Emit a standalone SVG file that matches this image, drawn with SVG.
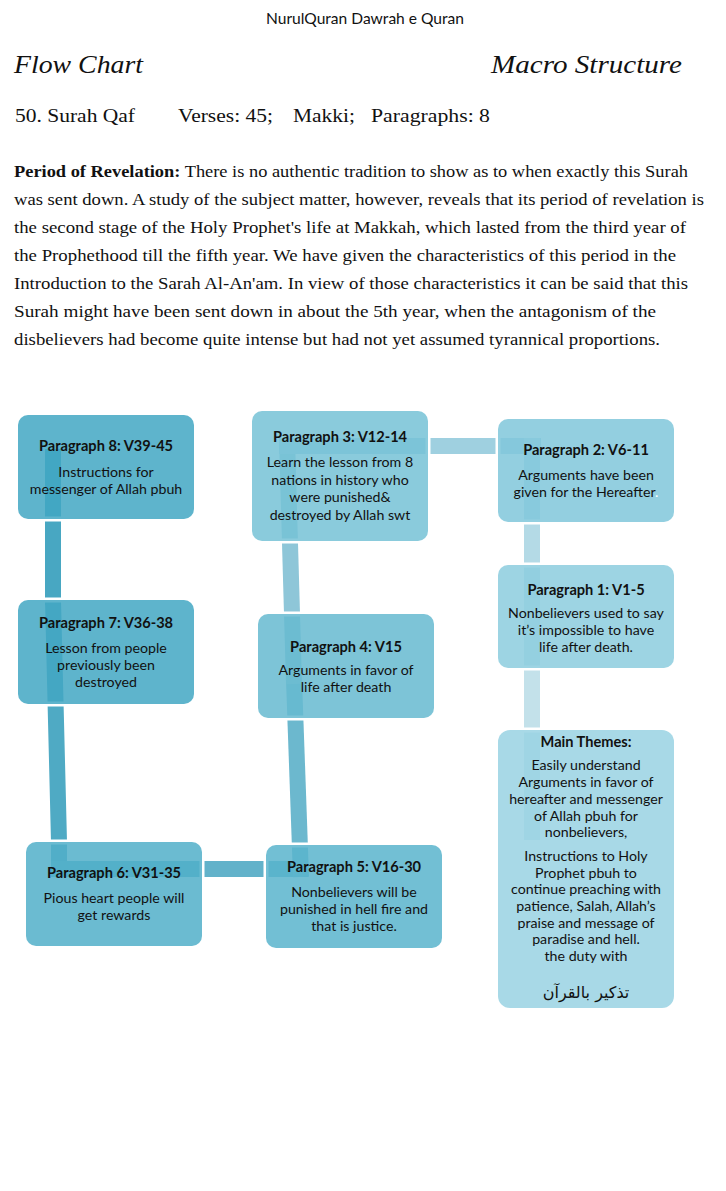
<svg xmlns="http://www.w3.org/2000/svg" width="726" height="1191" viewBox="0 0 726 1191">
<style>
.hdr{font-family:Lato,"Open Sans",sans-serif;font-size:15px;fill:#111;text-anchor:middle}
.scr{font-family:"Liberation Serif",serif;font-style:italic;font-size:25px;fill:#111}
.ser{font-family:"Liberation Serif",serif;font-size:19px;fill:#111}
.par{font-family:"Liberation Serif",serif;font-size:16.5px;fill:#111}
.b{font-weight:bold}
.t{font-family:Lato,"Open Sans",sans-serif;font-size:14.2px;fill:#111;text-anchor:middle}
.tb{font-family:Lato,"Open Sans",sans-serif;font-size:14.6px;font-weight:bold;fill:#111;text-anchor:middle}
.ar{font-family:"DejaVu Sans",sans-serif;font-size:16px;fill:#111;text-anchor:middle}
.halo{fill:none;stroke:#fff;stroke-width:5}
.box{fill-opacity:0.85}
.bar{fill:none;stroke-width:16;stroke-linecap:butt}
</style>
<rect width="726" height="1191" fill="#fff"/>
<g id="header">
<text class="hdr" x="365" y="24" textLength="198" lengthAdjust="spacingAndGlyphs">NurulQuran Dawrah e Quran</text>
<text class="scr" x="14" y="73" textLength="129" lengthAdjust="spacingAndGlyphs">Flow Chart</text>
<text class="scr" x="491" y="73" textLength="191" lengthAdjust="spacingAndGlyphs">Macro Structure</text>
<text class="ser" x="15" y="122" textLength="120" lengthAdjust="spacingAndGlyphs">50. Surah Qaf</text>
<text class="ser" x="178" y="122" textLength="95" lengthAdjust="spacingAndGlyphs">Verses: 45;</text>
<text class="ser" x="293" y="122" textLength="62" lengthAdjust="spacingAndGlyphs">Makki;</text>
<text class="ser" x="371" y="122" textLength="119" lengthAdjust="spacingAndGlyphs">Paragraphs: 8</text>
</g>
<g id="period-text">
<text class="par" x="14" y="177" textLength="674" lengthAdjust="spacingAndGlyphs"><tspan class="b">Period of Revelation:</tspan> There is no authentic tradition to show as to when exactly this Surah</text>
<text class="par" x="14" y="205" textLength="690" lengthAdjust="spacingAndGlyphs">was sent down. A study of the subject matter, however, reveals that its period of revelation is</text>
<text class="par" x="14" y="233" textLength="672" lengthAdjust="spacingAndGlyphs">the second stage of the Holy Prophet's life at Makkah, which lasted from the third year of</text>
<text class="par" x="14" y="261" textLength="662" lengthAdjust="spacingAndGlyphs">the Prophethood till the fifth year. We have given the characteristics of this period in the</text>
<text class="par" x="14" y="289" textLength="674" lengthAdjust="spacingAndGlyphs">Introduction to the Sarah Al-An'am. In view of those characteristics it can be said that this</text>
<text class="par" x="14" y="317" textLength="642" lengthAdjust="spacingAndGlyphs">Surah might have been sent down in about the 5th year, when the antagonism of the</text>
<text class="par" x="14" y="345" textLength="646" lengthAdjust="spacingAndGlyphs">disbelievers had become quite intense but had not yet assumed tyrannical proportions.</text>
</g>
<g id="connectors">
<path class="bar" stroke="#48a7c2" d="M53,449 V605"/>
<path class="bar" stroke="#4faac4" d="M53,600 L59,842 V877"/>
<path class="bar" stroke="#62b2ca" d="M51,869 H308"/>
<path class="bar" stroke="#6cb8ce" d="M301,877 L294,680"/>
<path class="bar" stroke="#8ec6d8" d="M294,684 L287,438"/>
<path class="bar" stroke="#9fd0e0" d="M279,446 H541"/>
<path class="bar" stroke="#b4dae6" d="M532,438 V602"/>
<path class="bar" stroke="#c3e1ea" d="M532,598 V840"/>
</g>
<g id="p8">
<rect class="halo" x="18" y="415" width="176" height="104" rx="10"/>
<rect class="box" x="18" y="415" width="176" height="104" rx="10" fill="#42a7c3"/>
<text class="tb" x="106" y="451">Paragraph 8: V39-45</text>
<text class="t" x="106" y="477">Instructions for</text>
<text class="t" x="106" y="494">messenger of Allah pbuh</text>
</g>
<g id="p7">
<rect class="halo" x="18" y="600" width="176" height="104" rx="10"/>
<rect class="box" x="18" y="600" width="176" height="104" rx="10" fill="#42a7c3"/>
<text class="tb" x="106" y="628">Paragraph 7: V36-38</text>
<text class="t" x="106" y="653">Lesson from people</text>
<text class="t" x="106" y="670">previously been</text>
<text class="t" x="106" y="687">destroyed</text>
</g>
<g id="p6">
<rect class="halo" x="26" y="842" width="176" height="104" rx="10"/>
<rect class="box" x="26" y="842" width="176" height="104" rx="10" fill="#51afc9"/>
<text class="tb" x="114" y="878">Paragraph 6: V31-35</text>
<text class="t" x="114" y="903">Pious heart people will</text>
<text class="t" x="114" y="920">get rewards</text>
</g>
<g id="p5">
<rect class="halo" x="266" y="845" width="176" height="103" rx="10"/>
<rect class="box" x="266" y="845" width="176" height="103" rx="10" fill="#59b4cc"/>
<text class="tb" x="354" y="872">Paragraph 5: V16-30</text>
<text class="t" x="354" y="897">Nonbelievers  will be</text>
<text class="t" x="354" y="914">punished in hell fire and</text>
<text class="t" x="354" y="931">that is justice.</text>
</g>
<g id="p4">
<rect class="halo" x="258" y="614" width="176" height="104" rx="10"/>
<rect class="box" x="258" y="614" width="176" height="104" rx="10" fill="#66bad0"/>
<text class="tb" x="346" y="652">Paragraph 4: V15</text>
<text class="t" x="346" y="675">Arguments in favor of</text>
<text class="t" x="346" y="692">life after death</text>
</g>
<g id="p3">
<rect class="halo" x="252" y="411" width="176" height="130" rx="10"/>
<rect class="box" x="252" y="411" width="176" height="130" rx="10" fill="#75c2d6"/>
<text class="tb" x="340" y="442">Paragraph 3: V12-14</text>
<text class="t" x="340" y="467">Learn the lesson from 8</text>
<text class="t" x="340" y="485">nations in history who</text>
<text class="t" x="340" y="502">were punished&amp;</text>
<text class="t" x="340" y="520">destroyed by Allah swt</text>
</g>
<g id="p2">
<rect class="halo" x="498" y="419" width="176" height="103" rx="10"/>
<rect class="box" x="498" y="419" width="176" height="103" rx="10" fill="#80c7db"/>
<text class="tb" x="586" y="455">Paragraph 2: V6-11</text>
<text class="t" x="586" y="480">Arguments have been</text>
<text class="t" x="586" y="497">given for the Hereafter<tspan fill="#fff">.</tspan></text>
</g>
<g id="p1">
<rect class="halo" x="498" y="565" width="176" height="103" rx="10"/>
<rect class="box" x="498" y="565" width="176" height="103" rx="10" fill="#8cccde"/>
<text class="tb" x="586" y="595">Paragraph 1: V1-5</text>
<text class="t" x="586" y="618">Nonbelievers used to say</text>
<text class="t" x="586" y="635">it’s impossible to have</text>
<text class="t" x="586" y="652">life after death.</text>
</g>
<g id="main-themes">
<rect class="halo" x="498" y="730" width="176" height="278" rx="12"/>
<rect class="box" x="498" y="730" width="176" height="278" rx="12" fill="#99d2e3"/>
<text class="tb" x="586" y="747">Main Themes:</text>
<text class="t" x="586" y="770">Easily understand</text>
<text class="t" x="586" y="787">Arguments in favor of</text>
<text class="t" x="586" y="804">hereafter and messenger</text>
<text class="t" x="586" y="821">of Allah pbuh for</text>
<text class="t" x="586" y="837">nonbelievers,</text>
<text class="t" x="586" y="861">Instructions to Holy</text>
<text class="t" x="586" y="878">Prophet pbuh to</text>
<text class="t" x="586" y="894">continue preaching with</text>
<text class="t" x="586" y="911">patience, Salah, Allah’s</text>
<text class="t" x="586" y="928">praise and message of</text>
<text class="t" x="586" y="944">paradise and hell.</text>
<text class="t" x="586" y="961">the duty with</text>
<text class="ar" x="586" y="998">تذکیر بالقرآن</text>
</g>
</svg>
